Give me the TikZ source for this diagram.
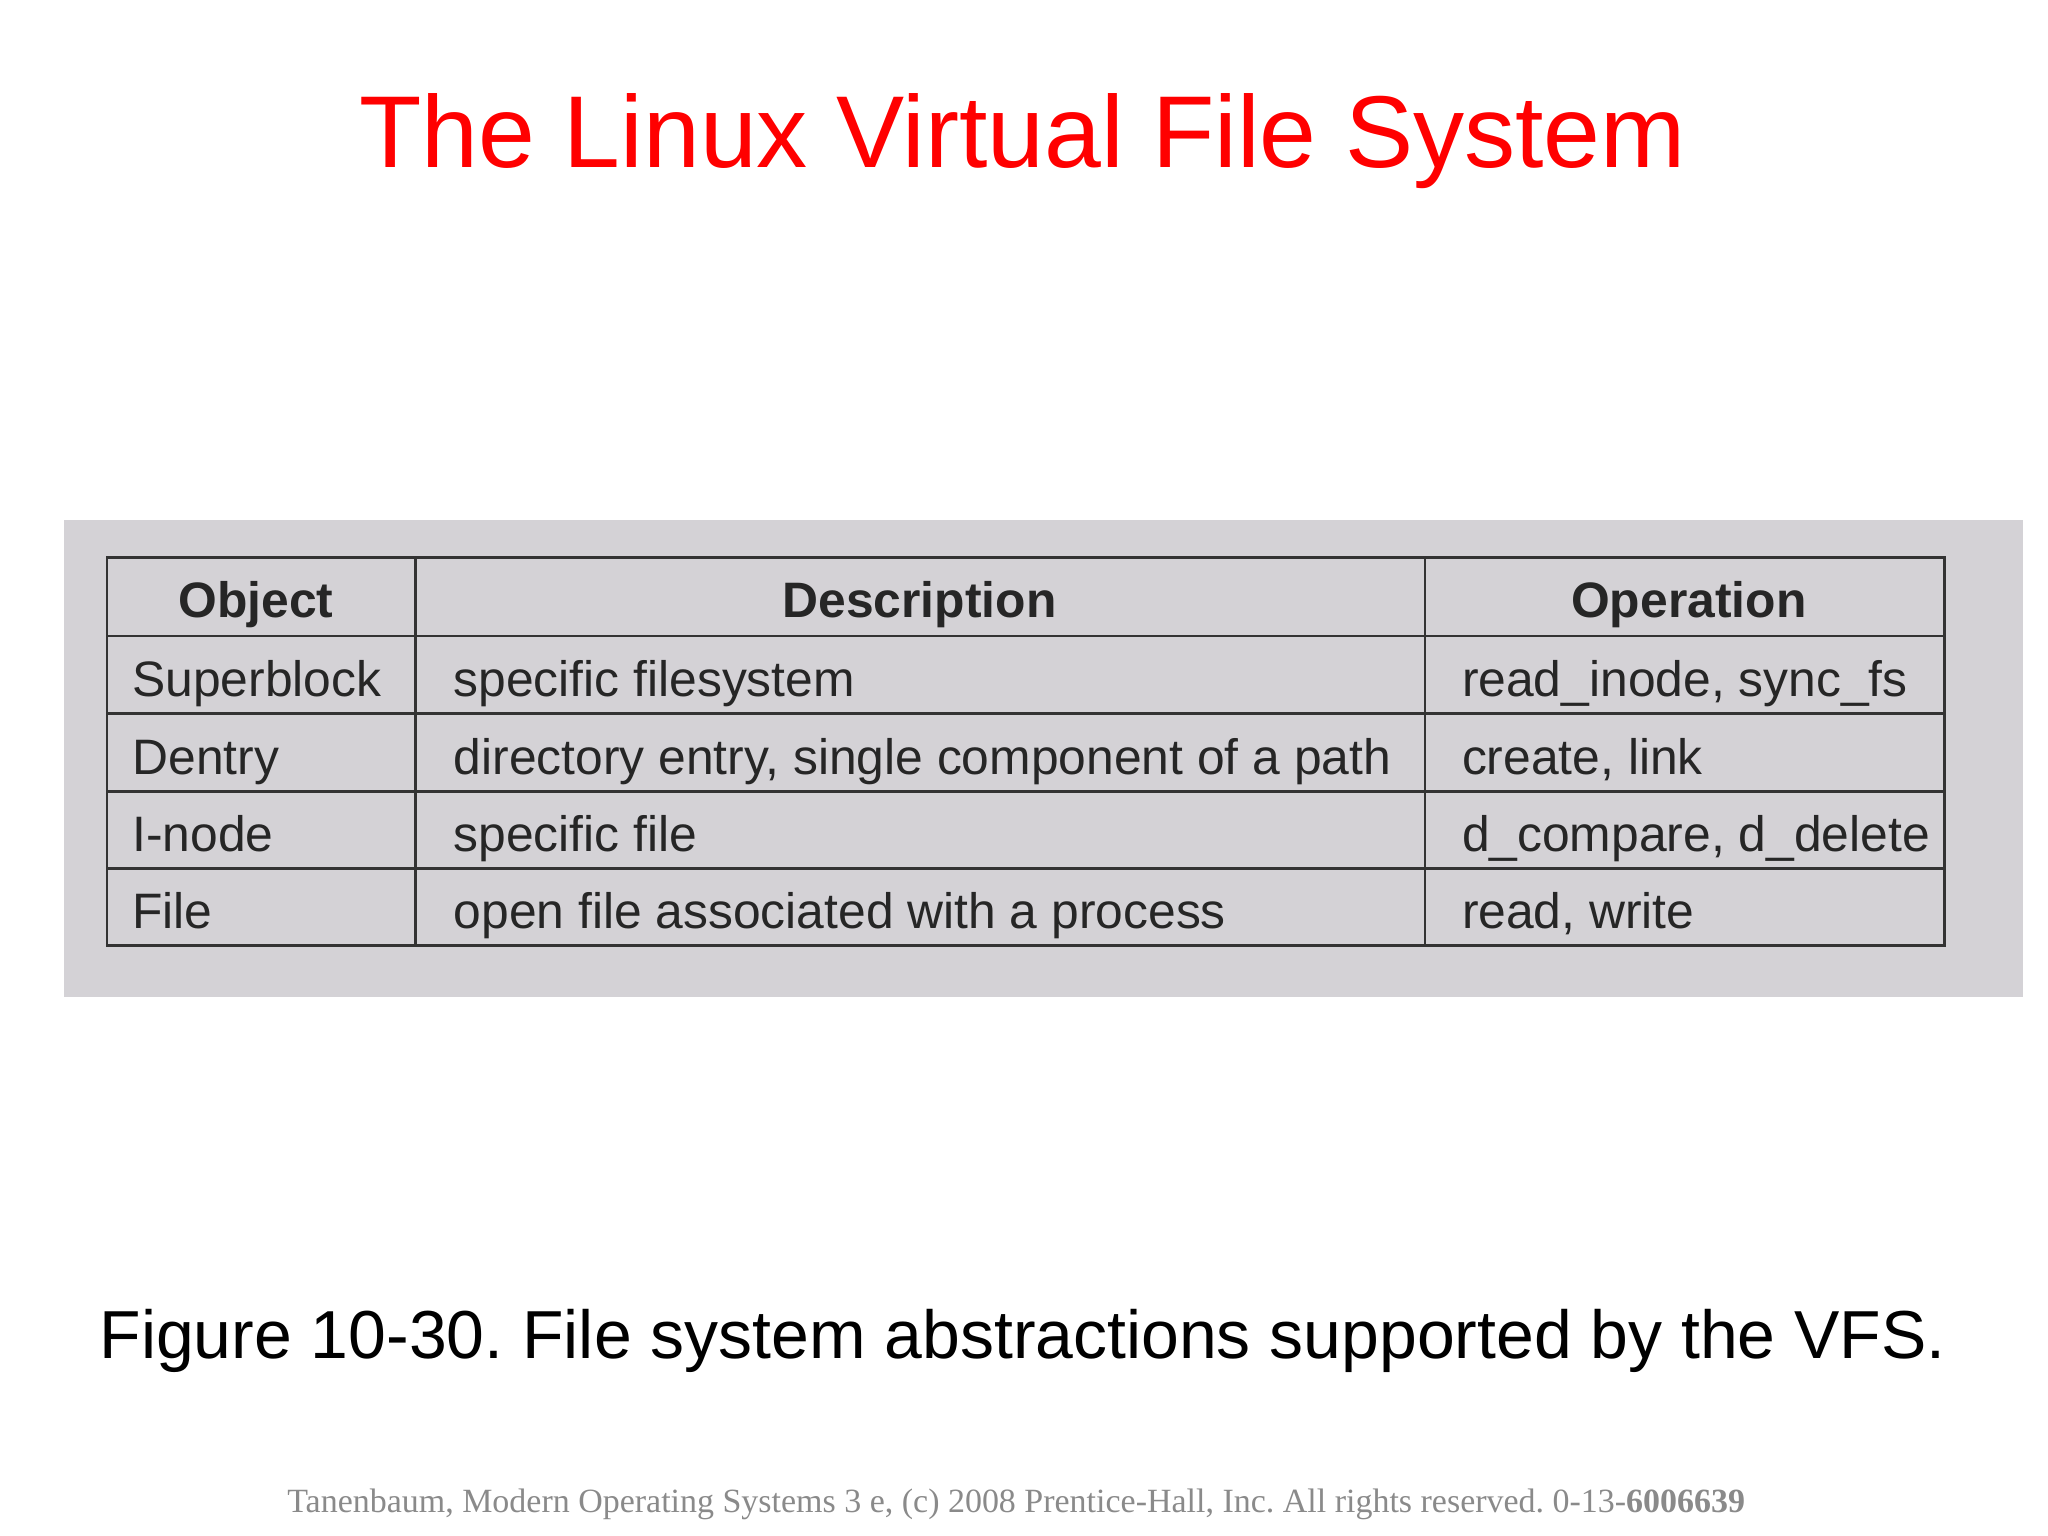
\documentclass[tikz,border=0pt]{standalone}
\usepackage{fontspec}
\setmainfont{Liberation Sans}
\newfontfamily\serifft{Liberation Serif}
\definecolor{panel}{HTML}{D4D2D6}
\definecolor{foot}{HTML}{8A8A8A}
\frenchspacing
\begin{document}
\begin{tikzpicture}[x=0.02cm,y=-0.02cm,
  cell/.style={anchor=base west,inner sep=0pt,font=\fontsize{21.7}{26}\selectfont,text=black!85},
  head/.style={anchor=base,inner sep=0pt,font=\fontsize{21.7}{26}\selectfont\bfseries,text=black!85}]
\useasboundingbox[fill=white] (0,0) rectangle (1568,1176);
\node[text=red,font=\fontsize{44.5}{54}\selectfont,anchor=base,inner sep=0pt] (title) at (783,128) {The Linux Virtual File System};
\fill[panel] (49,398) rectangle (1549,763);
\draw[line width=1.2pt,black!80] (82,427) rectangle (1489,724);
\foreach \y in {487,546,606,665} \draw[line width=1.2pt,black!80] (82,\y) -- (1489,\y);
\foreach \x in {318,1091} \draw[line width=1.2pt,black!80] (\x,427) -- (\x,724);
\node[head] (h1) at (196,473) {Object};
\node[head] (h2) at (704,473) {Description};
\node[head] (h3) at (1293,473) {Operation};
\node[cell] (a1) at (101,533) {Superblock};
\node[cell] (b1) at (347,533) {specific filesystem};
\node[cell] (c1) at (1119,533) {read\_inode, sync\_fs};
\node[cell] (a2) at (101,593) {Dentry};
\node[cell] (b2) at (347,593) {directory entry, single component of a path};
\node[cell] (c2) at (1119,593) {create, link};
\node[cell] (a3) at (101,652) {I-node};
\node[cell] (b3) at (347,652) {specific file};
\node[cell] (c3) at (1119,652) {d\_compare, d\_delete};
\node[cell] (a4) at (101,711) {File};
\node[cell] (b4) at (347,711) {open file associated with a process};
\node[cell] (c4) at (1119,711) {read, write};
\node[font=\fontsize{29.6}{34}\selectfont,anchor=base,inner sep=0pt] (cap) at (783,1040) {Figure 10-30. File system abstractions supported by the VFS.};
\node[text=foot,font=\serifft\fontsize{14.8}{17}\selectfont,anchor=base,inner sep=0pt] (ft) at (778,1158) {Tanenbaum, Modern Operating Systems 3 e, (c) 2008 Prentice-Hall, Inc. All rights reserved. 0-13-\textbf{6006639}};
\end{tikzpicture}
\end{document}
